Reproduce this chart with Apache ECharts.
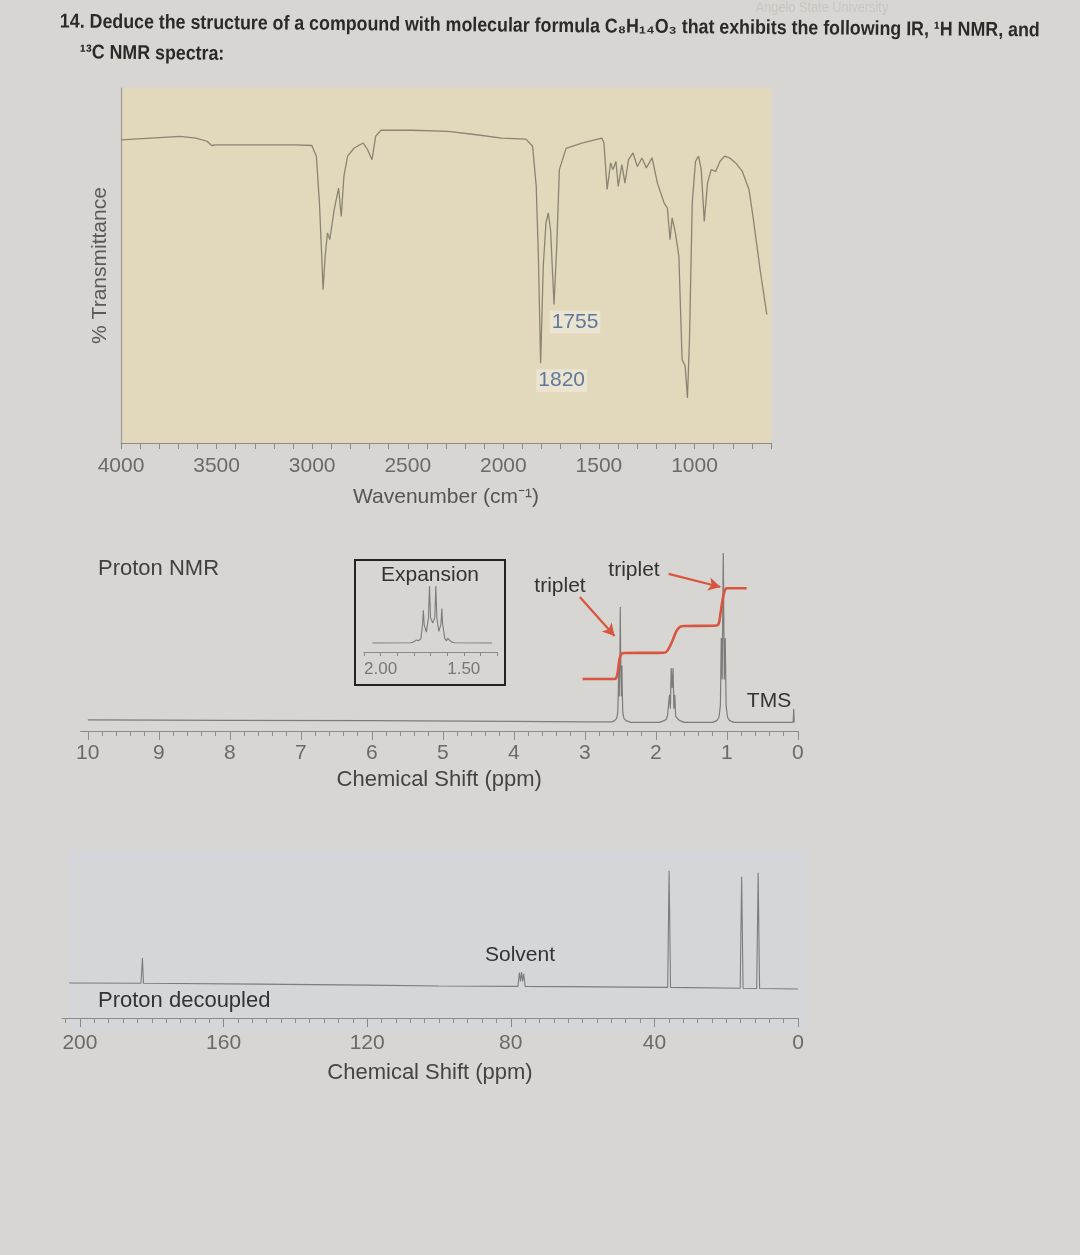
<!DOCTYPE html>
<html><head><meta charset="utf-8">
<script src="https://cdn.jsdelivr.net/npm/echarts@6/dist/echarts.min.js"></script>
<style>html,body{margin:0;padding:0;background:#d8d6d2;}#c{width:1080px;height:1255px;}</style>
</head><body><div id="c"></div>
<script>
// ---------- IR spectrum: [wavenumber cm-1, % transmittance] ----------
const irSpectrum = [[4000,85.4],[3690,86.4],[3608,85.9],[3550,85.0],[3526,83.8],[3503,84.0],[3083,84.0],[3002,83.8],[2978,80.8],[2962,67.6],[2950,52.6],[2943,43.2],[2932,52.6],[2920,59.2],[2908,57.3],[2885,65.7],[2862,71.8],[2848,63.8],[2834,75.1],[2815,80.8],[2780,83.1],[2733,84.5],[2710,82.6],[2687,79.8],[2668,86.4],[2640,88.1],[2477,88.1],[2290,87.8],[2150,86.9],[2010,85.9],[1882,85.6],[1847,83.6],[1828,72.3],[1817,53],[1805,22.5],[1791,50],[1777,62],[1765,64.8],[1753,60],[1735,39],[1721,55],[1707,77],[1672,83],[1590,84.5],[1485,85.9],[1474,84.5],[1457,71.4],[1439,78.9],[1427,77.0],[1411,79.3],[1399,72.3],[1380,78.4],[1364,73.2],[1345,79.8],[1322,81.7],[1299,77.9],[1275,80.3],[1252,77.5],[1222,80.3],[1194,73.2],[1159,67.6],[1142,66.2],[1128,57.3],[1117,63.4],[1100,59.2],[1082,52.6],[1065,23.5],[1049,21.6],[1037,12.7],[1026,30.0],[1012,67.6],[995,79.3],[979,80.8],[965,77.0],[949,62.4],[932,73.2],[913,77.0],[890,76.5],[867,79.3],[843,80.8],[816,80.3],[785,78.9],[750,76.5],[715,71.4],[692,62.9],[657,48.8],[622,36.2]];
const irPeakLabels = [[1805,22.5,'1820'],[1735,39,'1755']];
const irTickLabels = [4000,3500,3000,2500,2000,1500,1000];

// ---------- 1H NMR: [ppm, intensity] ----------
const hSpectrum = [[10.0,1.5],[8.0,1.2],[6.0,1.0],[4.0,0.6],[3.0,0.3],[2.62,0.3],[2.58,1],[2.55,2.5],[2.535,6],[2.527,20],[2.523,33],[2.515,15],[2.505,40],[2.5,67],[2.495,40],[2.485,15],[2.477,33],[2.473,20],[2.465,6],[2.45,2.5],[2.42,1],[2.35,0],[1.95,0],[1.88,1],[1.85,2],[1.835,4],[1.82,3.5],[1.807,16],[1.795,8],[1.783,31.6],[1.77,20],[1.757,31.6],[1.745,8],[1.733,16],[1.72,3.5],[1.705,4],[1.69,2],[1.66,1],[1.6,0],[1.2,0],[1.14,1],[1.11,3],[1.09,10],[1.078,49],[1.065,25],[1.05,98.5],[1.035,25],[1.022,49],[1.01,10],[0.99,3],[0.96,1],[0.9,0],[0.065,0],[0.058,7.8],[0.054,7.8],[0.05,0]];
const hIntegral = [[3.03,25.2],[2.58,25.2],[2.55,26.5],[2.53,31],[2.51,37],[2.48,40],[2.44,40.3],[1.88,40.5],[1.83,42],[1.77,47],[1.71,53],[1.66,55.5],[1.6,56],[1.14,56.3],[1.11,58],[1.09,63],[1.06,71],[1.03,76.5],[1.0,78],[0.72,78]];
const hArrows = [[[3.07,72.9],[2.58,50.2]],[[1.82,86.3],[1.09,78.7]]];
const hTickLabels = [0,1,2,3,4,5,6,7,8,9,10];

// ---------- 1H NMR expansion inset ----------
const expSpectrum = [[2.05,0],[1.82,0.5],[1.80,3],[1.785,8],[1.779,13],[1.772,6],[1.758,12],[1.748,50],[1.743,90],[1.738,50],[1.725,30],[1.712,70],[1.706,157],[1.700,70],[1.687,55],[1.674,70],[1.668,157],[1.662,70],[1.650,32],[1.637,52],[1.632,95],[1.627,52],[1.614,12],[1.603,6],[1.597,13],[1.590,8],[1.575,3],[1.555,0.5],[1.33,0]];
const expTickLabels = [2.0,1.5];

// ---------- 13C NMR: [ppm, intensity] ----------
const cSpectrum = [[203,2.7],[183,2.5],[182.6,22.5],[182.3,2.5],[150,1.8],[120,1.0],[100,0.3],[78.0,0],[77.6,11],[77.3,4],[77.0,11.4],[76.7,4],[76.4,10],[76.0,0],[36.3,-0.8],[35.9,91.5],[35.5,-0.8],[16.1,-1.5],[15.7,86.8],[15.3,-1.5],[11.5,-1.7],[11.1,90],[10.7,-1.7],[0,-2]];
const cTickLabels = [0,40,80,120,160,200];

function steps(a,b,s){const r=[];for(let v=a;v<=b+1e-9;v+=s)r.push(+v.toFixed(3));return r;}

const FONT = 'Liberation Sans, Arial, sans-serif';
const chart = echarts.init(document.getElementById('c'), null, {renderer:'canvas'});

const axisGray = '#8a8a8a';
const labelGray = '#6a6a6a';
const line = (w)=>({onZero:false, lineStyle:{color:axisGray, width:w}});

chart.setOption({
  backgroundColor: '#d8d6d2',
  animation: false,
  textStyle: {fontFamily: FONT},
  grid: [
    {left:121, top:88, width:650, height:355, show:true, backgroundColor:'#e2d8bb', borderWidth:0, containLabel:false},
    {left:80.7, top:540, width:717.1, height:191, containLabel:false},
    {left:364, top:585, width:133, height:67, containLabel:false},
    {left:62, top:860, width:736, height:158, containLabel:false}
  ],
  xAxis: [
    {gridIndex:0, type:'value', position:'bottom', min:600, max:4000, inverse:true,
     axisLine:line(1.2),
     axisTick:{customValues:steps(600,4000,100), length:6, lineStyle:{color:axisGray}},
     axisLabel:{customValues:irTickLabels, fontSize:21, color:labelGray, margin:13, fontFamily:FONT, formatter:v=>String(v)},
     splitLine:{show:false},
     name:'Wavenumber (cm⁻¹)', nameLocation:'middle', nameGap:44,
     nameTextStyle:{fontSize:21, color:'#555', fontFamily:FONT}},
    {gridIndex:1, type:'value', position:'bottom', min:0, max:10.1, inverse:true,
     axisLine:line(1.2),
     axisTick:{customValues:steps(0,10,0.2), length:5, lineStyle:{color:axisGray}},
     axisLabel:{show:false}, splitLine:{show:false}},
    {gridIndex:1, type:'value', position:'bottom', min:0, max:10.1, inverse:true, offset:0,
     axisLine:{show:false, onZero:false},
     axisTick:{customValues:hTickLabels, length:9, lineStyle:{color:axisGray}},
     axisLabel:{customValues:hTickLabels, fontSize:21, color:labelGray, margin:12, fontFamily:FONT},
     splitLine:{show:false},
     name:'Chemical Shift (ppm)', nameLocation:'middle', nameGap:38,
     nameTextStyle:{fontSize:22, color:'#444', fontFamily:FONT}},
    {gridIndex:2, type:'value', position:'bottom', min:1.3, max:2.1, inverse:true,
     axisLine:line(1),
     axisTick:{customValues:steps(1.3,2.1,0.1), length:4, lineStyle:{color:axisGray}},
     axisLabel:{customValues:expTickLabels, fontSize:17, color:'#777', margin:9, fontFamily:FONT,
       formatter:v=>Number(v).toFixed(2)},
     splitLine:{show:false}},
    {gridIndex:3, type:'value', position:'bottom', min:0, max:205, inverse:true,
     axisLine:line(1.2),
     axisTick:{customValues:steps(0,204,4), length:5, lineStyle:{color:axisGray}},
     axisLabel:{show:false}, splitLine:{show:false}},
    {gridIndex:3, type:'value', position:'bottom', min:0, max:205, inverse:true, offset:0,
     axisLine:{show:false, onZero:false},
     axisTick:{customValues:cTickLabels, length:9, lineStyle:{color:axisGray}},
     axisLabel:{customValues:cTickLabels, fontSize:21, color:labelGray, margin:15, fontFamily:FONT},
     splitLine:{show:false},
     name:'Chemical Shift (ppm)', nameLocation:'middle', nameGap:44,
     nameTextStyle:{fontSize:22, color:'#444', fontFamily:FONT}}
  ],
  yAxis: [
    {gridIndex:0, type:'value', min:0, max:100,
     axisLine:{show:true, onZero:false, lineStyle:{color:'#9a9a9a', width:1.2}}, axisTick:{show:false}, axisLabel:{show:false}, splitLine:{show:false},
     name:'% Transmittance', nameLocation:'middle', nameGap:10, nameRotate:90,
     nameTextStyle:{fontSize:21, color:'#5a5a5a', fontFamily:FONT}},
    {gridIndex:1, type:'value', min:-5, max:106, show:false},
    {gridIndex:2, type:'value', min:-25, max:160, show:false},
    {gridIndex:3, type:'value', min:-25, max:100, show:false}
  ],
  series: [
    {type:'line', xAxisIndex:0, yAxisIndex:0, data:irSpectrum, showSymbol:false, silent:true,
     lineStyle:{color:'#8a8474', width:1.3}},
    {type:'scatter', xAxisIndex:0, yAxisIndex:0, symbolSize:0, silent:true,
     data: irPeakLabels.map(d=>({value:[d[0],d[1]], name:d[2]})),
     label:{show:true, formatter:p=>p.name, position:'bottom', distance:6, offset:[21,0],
       fontSize:21, color:'#3d5c8f', backgroundColor:'rgba(238,233,218,0.85)', padding:[1,2], fontFamily:FONT}},
    {type:'line', xAxisIndex:1, yAxisIndex:1, data:hSpectrum, showSymbol:false, silent:true,
     lineStyle:{color:'#7c7c7c', width:1.2}},
    {type:'line', xAxisIndex:1, yAxisIndex:1, data:hIntegral, showSymbol:false, silent:true, smooth:0.3,
     lineStyle:{color:'#d8553f', width:2.6},
     markLine:{silent:true, symbol:['none','arrow'], symbolSize:[10,12], label:{show:false},
       lineStyle:{color:'#d8553f', width:2.2, type:'solid'},
       data: hArrows.map(a=>[{coord:a[0]},{coord:a[1]}])}},
    {type:'line', xAxisIndex:3, yAxisIndex:2, data:expSpectrum, showSymbol:false, silent:true,
     lineStyle:{color:'#7c7c7c', width:1.1}},
    {type:'line', xAxisIndex:4, yAxisIndex:3, data:cSpectrum, showSymbol:false, silent:true,
     lineStyle:{color:'#7c7c7c', width:1.1}}
  ],
  graphic: [
    {type:'rect', z:-10, shape:{x:68, y:850, width:740, height:182}, style:{fill:'#d5d6d9'}},
    {type:'rect', shape:{x:355, y:560, width:150, height:125}, style:{fill:'none', stroke:'#222', lineWidth:2}},
    {type:'text', x:60, y:12, rotation:-0.009, scaleX:0.89, style:{text:'14. Deduce the structure of a compound with molecular formula C₈H₁₄O₃ that exhibits the following IR, ¹H NMR, and', fontFamily:'Liberation Sans, sans-serif', fontWeight:'bold', fontSize:20, fill:'#2a2a2a'}},
    {type:'text', x:80, y:43, rotation:-0.009, scaleX:0.89, style:{text:'¹³C NMR spectra:', fontFamily:'Liberation Sans, sans-serif', fontWeight:'bold', fontSize:20, fill:'#2a2a2a'}},
    {type:'text', x:822, y:8, scaleX:0.85, style:{text:'Angelo State University', fontFamily:'Liberation Sans, sans-serif', fontSize:15, fill:'#c9c6c2', align:'center', verticalAlign:'middle'}},
    {type:'text', x:98, y:569, style:{text:'Proton NMR', fontFamily:FONT, fontSize:22, fill:'#404040', verticalAlign:'middle'}},
    {type:'text', x:430, y:575, style:{text:'Expansion', fontFamily:FONT, fontSize:21, fill:'#333', align:'center', verticalAlign:'middle'}},
    {type:'text', x:560, y:586, style:{text:'triplet', fontFamily:FONT, fontSize:21, fill:'#333', align:'center', verticalAlign:'middle'}},
    {type:'text', x:634, y:570, style:{text:'triplet', fontFamily:FONT, fontSize:21, fill:'#333', align:'center', verticalAlign:'middle'}},
    {type:'text', x:769, y:701, style:{text:'TMS', fontFamily:FONT, fontSize:21, fill:'#333', align:'center', verticalAlign:'middle'}},
    {type:'text', x:520, y:955, style:{text:'Solvent', fontFamily:FONT, fontSize:21, fill:'#333', align:'center', verticalAlign:'middle'}},
    {type:'text', x:98, y:1001, style:{text:'Proton decoupled', fontFamily:FONT, fontSize:22, fill:'#333', verticalAlign:'middle'}}
  ]
});
</script></body></html>
